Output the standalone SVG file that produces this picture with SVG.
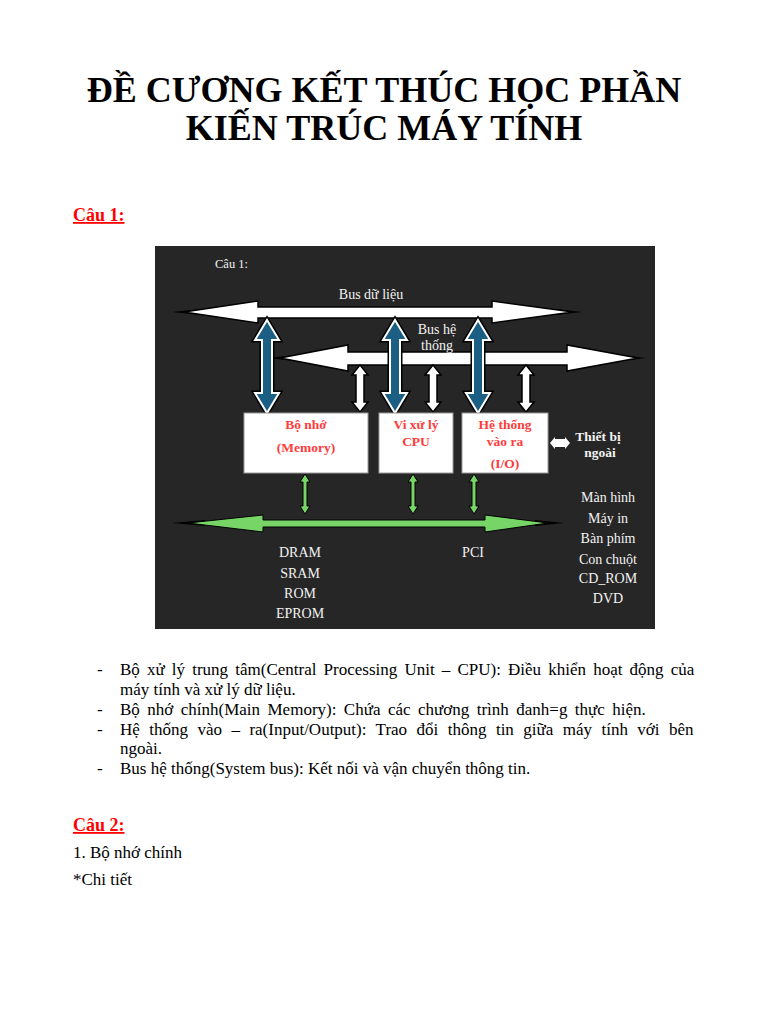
<svg xmlns="http://www.w3.org/2000/svg" xmlns:xlink="http://www.w3.org/1999/xlink" width="768" height="1024" viewBox="0 0 768 1024">
<style>
text{font-family:"Liberation Serif","Times New Roman",serif;}
.title{font-size:36px;font-weight:bold;fill:#000;text-anchor:middle;}
.head{font-size:18px;font-weight:bold;fill:#ff0000;text-decoration:underline;}
.body{font-size:17px;fill:#000;}
.wt{font-size:14px;fill:#f2f2f2;text-anchor:middle;}
.wtb{font-size:13.5px;fill:#f2f2f2;text-anchor:middle;font-weight:bold;}
.rt{font-size:13.5px;fill:#ff3b3b;text-anchor:middle;font-weight:bold;}
.box{fill:#fff;stroke:#9a9a9a;stroke-width:1;}
.bus{fill:#fff;stroke:#000;stroke-width:1.5;}
.shadow{fill:#000;}
.blueo{fill:none;stroke:#000;stroke-width:5;}
.blue{fill:#1b5f84;stroke:#fff;stroke-width:2;}
.wsm{fill:#fff;stroke:#000;stroke-width:1.5;}
.grn{fill:#77d466;stroke:#000;stroke-width:1;}
</style>
<defs>
<path id="bA" d="M0,320 L12,340 L5,340 L5,393 L12,393 L0,413 L-12,393 L-5,393 L-5,340 L-12,340 Z"/>
<path id="wA" d="M0,365 L8,375 L4,375 L4,402 L8,402 L0,412 L-8,402 L-4,402 L-4,375 L-8,375 Z"/>
<path id="gA" d="M0,474 L5,482 L2,482 L2,506 L5,506 L0,514 L-5,506 L-2,506 L-2,482 L-5,482 Z"/>
</defs>
<rect width="768" height="1024" fill="#fff"/>
<text class="title" x="384" y="102">ĐỀ CƯƠNG KẾT THÚC HỌC PHẦN</text>
<text class="title" x="384" y="140">KIẾN TRÚC MÁY TÍNH</text>
<text class="head" x="73" y="221">Câu 1:</text>
<rect id="panel" x="155" y="246" width="500" height="383" fill="#262626"/>
<text class="wt" x="215" y="268" style="font-size:12.5px;text-anchor:start">Câu 1:</text>
<text class="wt" x="371" y="299">Bus dữ liệu</text>
<g id="connectors">
<polygon class="shadow" points="172,312 200,309 200,315"/>
<polygon class="shadow" points="582,312 555,309 555,315"/>
<polygon class="bus" points="184,312 258,301 258,307 492,307 492,301 573,312 492,323 492,318 258,318 258,323"/>
<polygon class="shadow" points="268,358 295,355 295,361"/>
<polygon class="shadow" points="646,358 620,355 620,361"/>
<polygon class="bus" points="280,358 348,345 348,352 567,352 567,345 638,358 567,371 567,365 348,365 348,371"/>
<use xlink:href="#wA" class="wsm" x="360"/>
<use xlink:href="#wA" class="wsm" x="433"/>
<use xlink:href="#wA" class="wsm" x="526"/>
<use xlink:href="#bA" class="blueo" x="267"/>
<use xlink:href="#bA" class="blue" x="267"/>
<use xlink:href="#bA" class="blueo" x="395"/>
<use xlink:href="#bA" class="blue" x="395"/>
<use xlink:href="#bA" class="blueo" x="478"/>
<use xlink:href="#bA" class="blue" x="478"/>
<use xlink:href="#gA" class="grn" x="305"/>
<use xlink:href="#gA" class="grn" x="413"/>
<use xlink:href="#gA" class="grn" x="474"/>
<polygon class="shadow" points="172,523 205,520 205,526"/>
<polygon class="shadow" points="564,523 535,520 535,526"/>
<polygon class="grn" points="188,523 263,515 263,520 485,520 485,515 548,523 485,532 485,527 263,527 263,532"/>
<polygon fill="#fff" points="550,443 555,437 555,439 565,439 565,437 570,443 565,449 565,447 555,447 555,449"/>
</g>
<text class="wt" x="437" y="334">Bus hệ</text>
<text class="wt" x="437" y="350">thống</text>
<g id="box-memory">
<rect class="box" x="244" y="413" width="124" height="60"/>
<text class="rt" x="306" y="429">Bộ nhớ</text>
<text class="rt" x="306" y="452">(Memory)</text>
</g>
<g id="box-cpu">
<rect class="box" x="379" y="413" width="74" height="60"/>
<text class="rt" x="416" y="429">Vi xử lý</text>
<text class="rt" x="416" y="446">CPU</text>
</g>
<g id="box-io">
<rect class="box" x="462" y="413" width="86" height="60"/>
<text class="rt" x="505" y="429">Hệ thống</text>
<text class="rt" x="505" y="446">vào ra</text>
<text class="rt" x="505" y="468">(I/O)</text>
</g>
<g id="external">
<text class="wtb" x="598" y="441">Thiết bị</text>
<text class="wtb" x="600" y="457">ngoài</text>
</g>
<g id="memory-types">
<text class="wt" x="300" y="557">DRAM</text>
<text class="wt" x="300" y="578">SRAM</text>
<text class="wt" x="300" y="598">ROM</text>
<text class="wt" x="300" y="618">EPROM</text>
</g>
<text class="wt" x="473" y="557">PCI</text>
<g id="devices">
<text class="wt" x="608" y="502">Màn hình</text>
<text class="wt" x="608" y="523">Máy in</text>
<text class="wt" x="608" y="543">Bàn phím</text>
<text class="wt" x="608" y="564">Con chuột</text>
<text class="wt" x="608" y="583">CD_ROM</text>
<text class="wt" x="608" y="603">DVD</text>
</g>
<g id="bullets">
<text class="body" x="97" y="675">-</text>
<text class="body" x="120" y="675" style="word-spacing:2.9px">Bộ xử lý trung tâm(Central Processing Unit – CPU): Điều khiển hoạt động của</text>
<text class="body" x="120" y="695">máy tính và xử lý dữ liệu.</text>
<text class="body" x="97" y="715">-</text>
<text class="body" x="120" y="715" style="word-spacing:3.2px">Bộ nhớ chính(Main Memory): Chứa các chương trình đanh=g thực hiện.</text>
<text class="body" x="97" y="735">-</text>
<text class="body" x="120" y="735" style="word-spacing:5.2px">Hệ thống vào – ra(Input/Output): Trao đổi thông tin giữa máy tính với bên</text>
<text class="body" x="120" y="754">ngoài.</text>
<text class="body" x="97" y="774">-</text>
<text class="body" x="120" y="774">Bus hệ thống(System bus): Kết nối và vận chuyển thông tin.</text>
</g>
<text class="head" x="73" y="831">Câu 2:</text>
<text class="body" x="73" y="858">1. Bộ nhớ chính</text>
<text class="body" x="73" y="885">*Chi tiết</text>
</svg>
